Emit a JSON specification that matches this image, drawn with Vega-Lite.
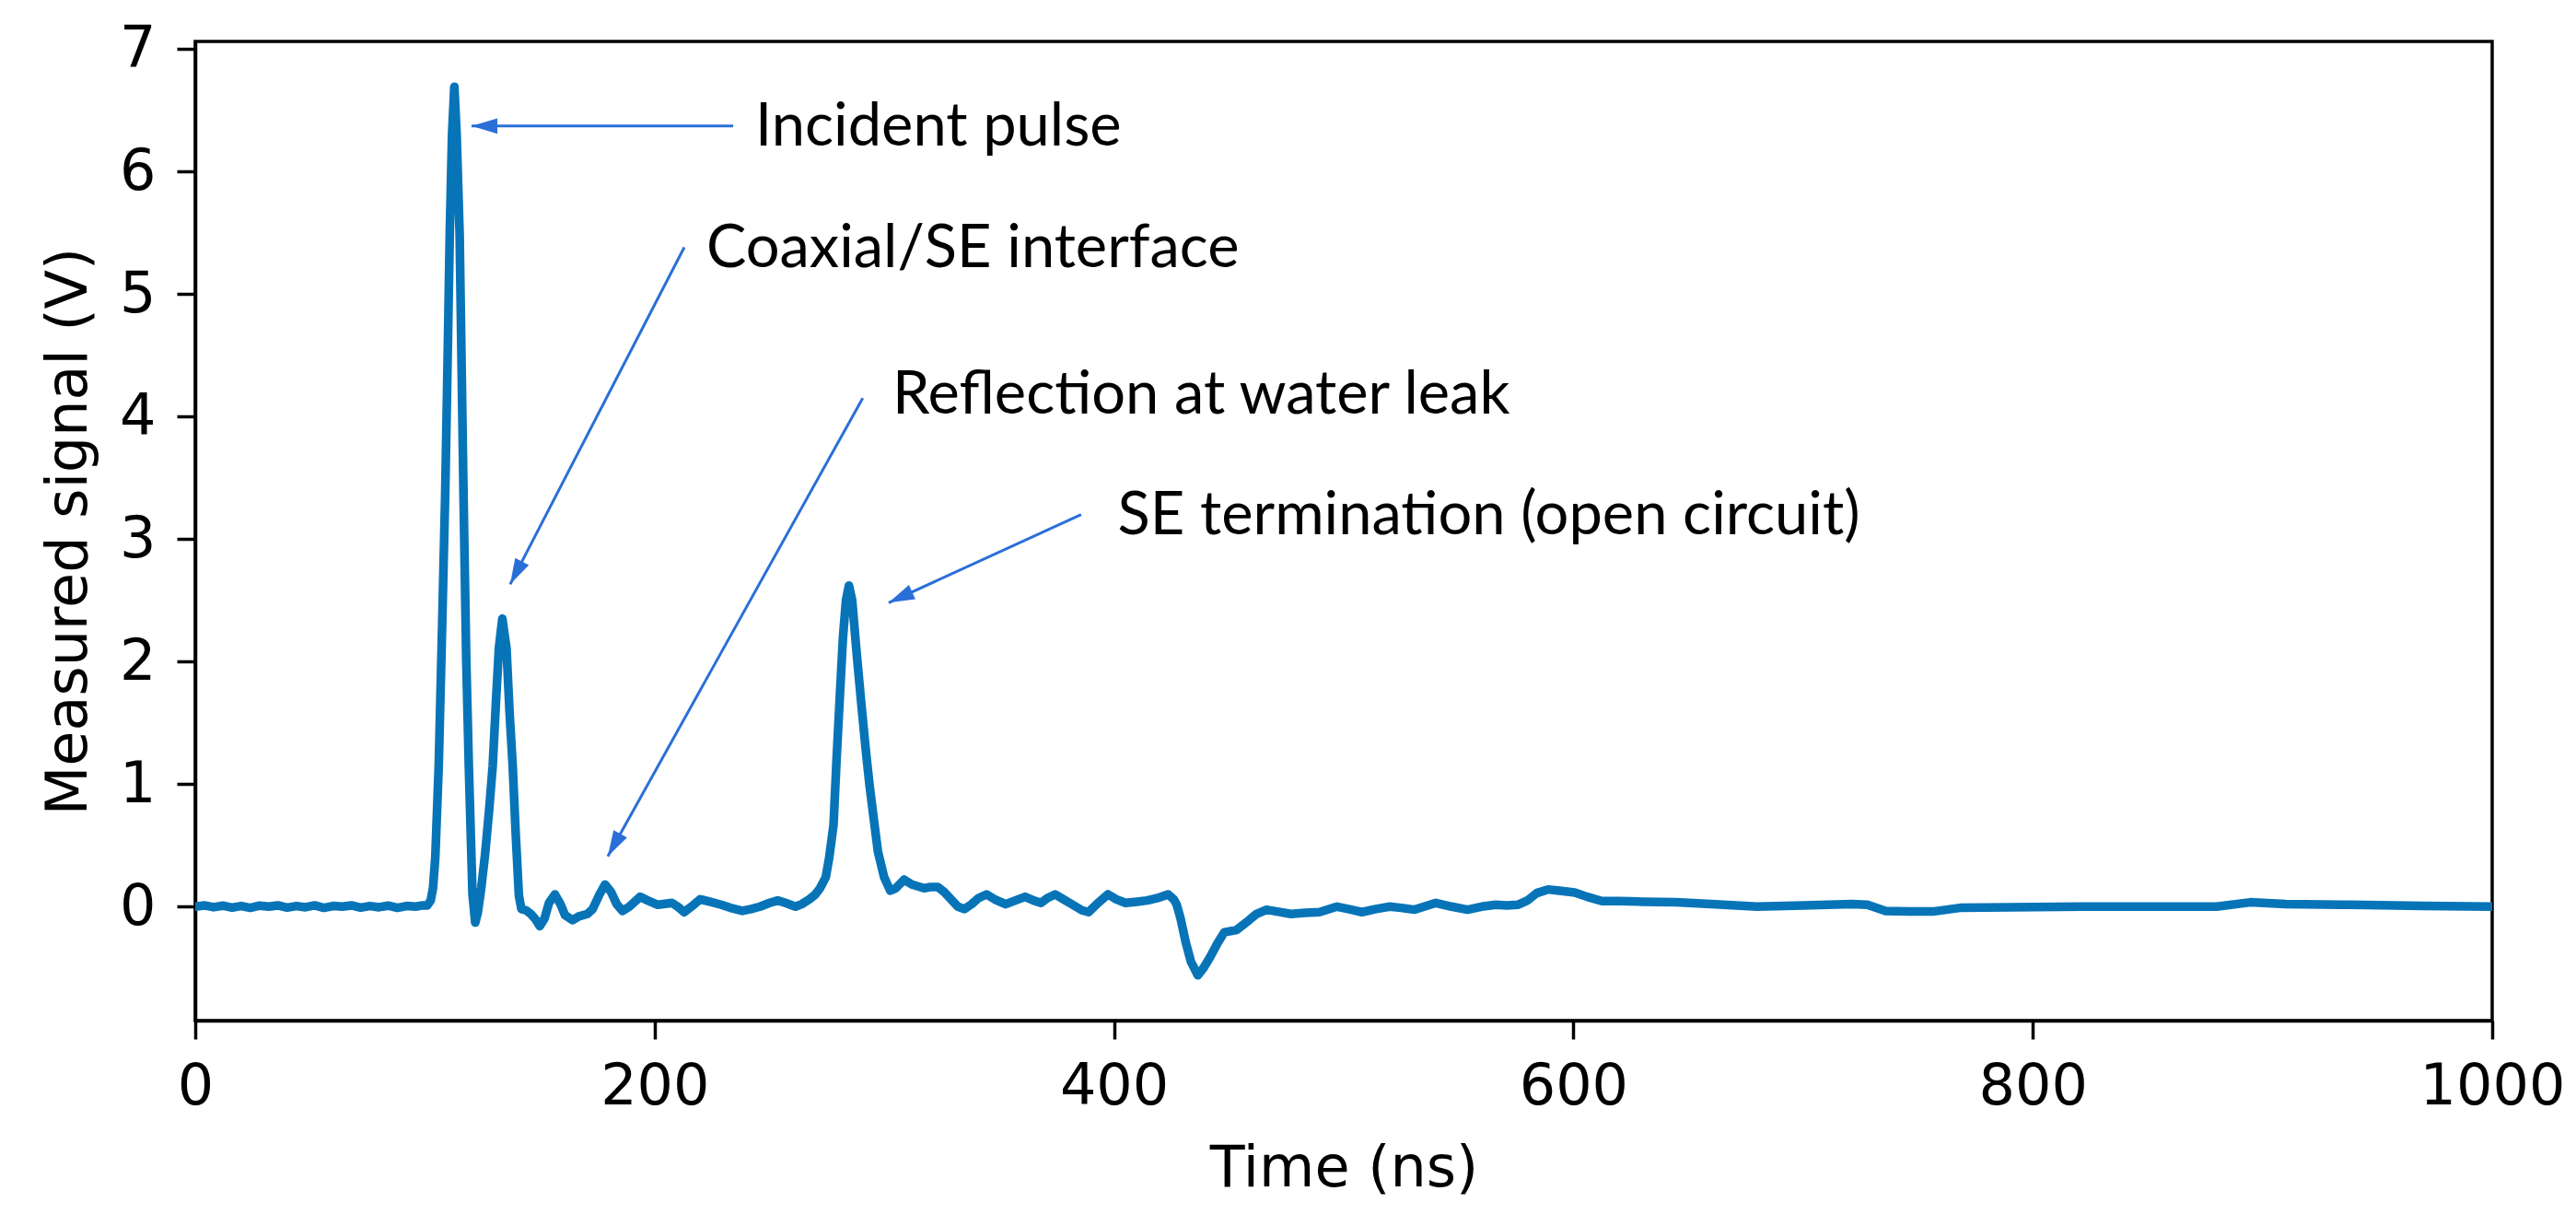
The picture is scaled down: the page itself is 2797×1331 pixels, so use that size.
{
  "$schema": "https://vega.github.io/schema/vega-lite/v6.json",
  "width": 2494,
  "height": 1063,
  "autosize": {"type": "none"},
  "padding": {"left": 212, "top": 45, "right": 91, "bottom": 223},
  "background": "white",
  "config": {
    "view": {"stroke": "black", "strokeWidth": 3.5},
    "axis": {
      "grid": false,
      "domainColor": "black",
      "domainWidth": 3.5,
      "tickColor": "black",
      "tickWidth": 3.5,
      "tickSize": 20,
      "labelFont": "DejaVu Sans",
      "labelFontSize": 62,
      "labelColor": "black",
      "titleFont": "DejaVu Sans",
      "titleFontSize": 62,
      "titleFontWeight": "normal",
      "titleColor": "black"
    }
  },
  "datasets": {
    "signal": [
      {"t": 0, "v": 0.0}, {"t": 4, "v": 0.01}, {"t": 8, "v": -0.005}, {"t": 12, "v": 0.008},
      {"t": 16, "v": -0.008}, {"t": 20, "v": 0.005}, {"t": 24, "v": -0.01}, {"t": 28, "v": 0.008},
      {"t": 32, "v": 0.0}, {"t": 36, "v": 0.01}, {"t": 40, "v": -0.008}, {"t": 44, "v": 0.005},
      {"t": 48, "v": -0.005}, {"t": 52, "v": 0.01}, {"t": 56, "v": -0.01}, {"t": 60, "v": 0.005},
      {"t": 64, "v": 0.0}, {"t": 68, "v": 0.01}, {"t": 72, "v": -0.008}, {"t": 76, "v": 0.005},
      {"t": 80, "v": -0.005}, {"t": 84, "v": 0.008}, {"t": 88, "v": -0.01}, {"t": 92, "v": 0.005},
      {"t": 96, "v": 0.0}, {"t": 99, "v": 0.01}, {"t": 101, "v": 0.01}, {"t": 102.5, "v": 0.05},
      {"t": 103.5, "v": 0.15}, {"t": 104.5, "v": 0.4}, {"t": 106, "v": 1.15}, {"t": 107.5, "v": 2.3},
      {"t": 108.8, "v": 3.35}, {"t": 110, "v": 4.6}, {"t": 110.8, "v": 5.49}, {"t": 111.8, "v": 6.3},
      {"t": 112.8, "v": 6.69}, {"t": 113.8, "v": 6.3}, {"t": 115.1, "v": 5.49}, {"t": 116.8, "v": 3.35},
      {"t": 118, "v": 2.0}, {"t": 119.1, "v": 1.15}, {"t": 120.7, "v": 0.1}, {"t": 121.9, "v": -0.13},
      {"t": 123, "v": -0.05}, {"t": 124.5, "v": 0.15}, {"t": 126.2, "v": 0.43}, {"t": 128, "v": 0.8},
      {"t": 129.5, "v": 1.15}, {"t": 131, "v": 1.7}, {"t": 132.2, "v": 2.11}, {"t": 133.7, "v": 2.35},
      {"t": 135.5, "v": 2.11}, {"t": 136.8, "v": 1.6}, {"t": 138.2, "v": 1.15}, {"t": 139.5, "v": 0.6},
      {"t": 140.9, "v": 0.09}, {"t": 142, "v": -0.02}, {"t": 144, "v": -0.03}, {"t": 146.1, "v": -0.06},
      {"t": 148, "v": -0.1}, {"t": 150, "v": -0.16}, {"t": 152, "v": -0.1}, {"t": 154, "v": 0.03},
      {"t": 156.6, "v": 0.1}, {"t": 159, "v": 0.02}, {"t": 161, "v": -0.07}, {"t": 164.3, "v": -0.11},
      {"t": 167, "v": -0.08}, {"t": 170.7, "v": -0.06}, {"t": 173, "v": -0.02}, {"t": 176, "v": 0.1},
      {"t": 178.4, "v": 0.18}, {"t": 181, "v": 0.12}, {"t": 183.5, "v": 0.02}, {"t": 186, "v": -0.035},
      {"t": 189, "v": 0.0}, {"t": 193.7, "v": 0.08}, {"t": 197, "v": 0.05}, {"t": 201.4, "v": 0.015},
      {"t": 207.5, "v": 0.03}, {"t": 210, "v": 0.0}, {"t": 212.9, "v": -0.045}, {"t": 216, "v": 0.0},
      {"t": 219.8, "v": 0.06}, {"t": 224, "v": 0.04}, {"t": 229, "v": 0.015}, {"t": 233, "v": -0.01},
      {"t": 238.2, "v": -0.035}, {"t": 242, "v": -0.02}, {"t": 245.9, "v": 0.0}, {"t": 250, "v": 0.03},
      {"t": 253.6, "v": 0.05}, {"t": 257, "v": 0.03}, {"t": 261.3, "v": 0.0}, {"t": 264, "v": 0.02},
      {"t": 267.4, "v": 0.06}, {"t": 270, "v": 0.1}, {"t": 272, "v": 0.15}, {"t": 274.5, "v": 0.24},
      {"t": 276, "v": 0.4}, {"t": 277.9, "v": 0.67}, {"t": 279.2, "v": 1.2}, {"t": 280.5, "v": 1.67},
      {"t": 282, "v": 2.2}, {"t": 283.3, "v": 2.5}, {"t": 284.6, "v": 2.62}, {"t": 286, "v": 2.5},
      {"t": 287.8, "v": 2.1}, {"t": 289.9, "v": 1.67}, {"t": 291.8, "v": 1.3}, {"t": 293.5, "v": 1.0},
      {"t": 295.5, "v": 0.7}, {"t": 297.2, "v": 0.45}, {"t": 299.9, "v": 0.24}, {"t": 302.6, "v": 0.13},
      {"t": 305, "v": 0.15}, {"t": 308.6, "v": 0.22}, {"t": 312, "v": 0.18}, {"t": 317.3, "v": 0.15},
      {"t": 320, "v": 0.16}, {"t": 323.3, "v": 0.16}, {"t": 326, "v": 0.12}, {"t": 329, "v": 0.06},
      {"t": 332, "v": 0.0}, {"t": 334.8, "v": -0.02}, {"t": 338, "v": 0.02}, {"t": 341, "v": 0.07},
      {"t": 344.5, "v": 0.1}, {"t": 348, "v": 0.06}, {"t": 352.8, "v": 0.02}, {"t": 357, "v": 0.05},
      {"t": 361.3, "v": 0.08}, {"t": 365, "v": 0.05}, {"t": 368.2, "v": 0.03}, {"t": 371, "v": 0.07},
      {"t": 374.4, "v": 0.1}, {"t": 378, "v": 0.06}, {"t": 382, "v": 0.015}, {"t": 386, "v": -0.03},
      {"t": 388.9, "v": -0.045}, {"t": 393, "v": 0.03}, {"t": 397.4, "v": 0.1}, {"t": 401, "v": 0.06},
      {"t": 405, "v": 0.03}, {"t": 410, "v": 0.04}, {"t": 414.3, "v": 0.05}, {"t": 419, "v": 0.07},
      {"t": 423.5, "v": 0.1}, {"t": 426, "v": 0.06}, {"t": 427.3, "v": 0.015}, {"t": 429, "v": -0.1},
      {"t": 431.2, "v": -0.29}, {"t": 433.5, "v": -0.45}, {"t": 436.5, "v": -0.56}, {"t": 439, "v": -0.5},
      {"t": 441.9, "v": -0.41}, {"t": 445, "v": -0.3}, {"t": 448, "v": -0.21}, {"t": 453.4, "v": -0.19},
      {"t": 458.8, "v": -0.11}, {"t": 462, "v": -0.06}, {"t": 466.4, "v": -0.025}, {"t": 471, "v": -0.04},
      {"t": 477.1, "v": -0.06}, {"t": 483, "v": -0.05}, {"t": 489.4, "v": -0.045}, {"t": 497.1, "v": 0.0},
      {"t": 502, "v": -0.02}, {"t": 507.9, "v": -0.045}, {"t": 514, "v": -0.02}, {"t": 520.1, "v": 0.0},
      {"t": 525, "v": -0.01}, {"t": 530.9, "v": -0.025}, {"t": 535, "v": 0.0}, {"t": 540.1, "v": 0.03},
      {"t": 547, "v": 0.0}, {"t": 553.9, "v": -0.025}, {"t": 560, "v": 0.0}, {"t": 566.2, "v": 0.015},
      {"t": 571, "v": 0.01}, {"t": 575.7, "v": 0.015}, {"t": 580, "v": 0.05}, {"t": 584, "v": 0.11},
      {"t": 588.9, "v": 0.14}, {"t": 594, "v": 0.13}, {"t": 600.6, "v": 0.115}, {"t": 606, "v": 0.08},
      {"t": 612.4, "v": 0.045}, {"t": 620, "v": 0.045}, {"t": 630, "v": 0.04}, {"t": 644.7, "v": 0.035},
      {"t": 660, "v": 0.02}, {"t": 680, "v": 0.0}, {"t": 700, "v": 0.01}, {"t": 721.2, "v": 0.02},
      {"t": 728, "v": 0.015}, {"t": 735.9, "v": -0.035}, {"t": 746, "v": -0.04}, {"t": 756.5, "v": -0.04},
      {"t": 768.2, "v": -0.01}, {"t": 790, "v": -0.005}, {"t": 821.2, "v": 0.0}, {"t": 850, "v": 0.0},
      {"t": 880, "v": 0.0}, {"t": 894.7, "v": 0.035}, {"t": 910, "v": 0.02}, {"t": 938.8, "v": 0.015},
      {"t": 970, "v": 0.005}, {"t": 1000, "v": 0.0}
    ],
    "notes": [
      {"label": "Incident pulse", "t": 120.3, "v": 6.37, "t0": 234.2, "v0": 6.37, "tx": 243.8, "ty": 6.36},
      {"label": "Coaxial/SE interface", "t": 137.1, "v": 2.63, "t0": 212.9, "v0": 5.38, "tx": 222.5, "ty": 5.37},
      {"label": "Reflection at water leak", "t": 179.6, "v": 0.41, "t0": 290.6, "v0": 4.15, "tx": 303.5, "ty": 4.17},
      {"label": "SE termination (open circuit)", "t": 301.9, "v": 2.48, "t0": 385.7, "v0": 3.2, "tx": 401.6, "ty": 3.19}
    ]
  },
  "encoding": {
    "x": {
      "type": "quantitative",
      "scale": {"domain": [0, 1000], "nice": false, "zero": false},
      "axis": {"values": [0, 200, 400, 600, 800, 1000], "format": "d", "labelFlush": false, "labelPadding": 21, "titlePadding": 28}
    },
    "y": {
      "type": "quantitative",
      "scale": {"domain": [-0.93, 7.06], "nice": false, "zero": false},
      "axis": {"values": [0, 1, 2, 3, 4, 5, 6, 7], "format": "d", "labelPadding": 23, "titlePadding": 23}
    }
  },
  "layer": [
    {
      "data": {"name": "signal"},
      "mark": {"type": "line", "color": "#0874b8", "strokeWidth": 9.5, "strokeJoin": "round", "strokeCap": "round", "clip": true},
      "encoding": {
        "x": {"field": "t", "type": "quantitative", "title": "Time (ns)"},
        "y": {"field": "v", "type": "quantitative", "title": "Measured signal (V)"}
      }
    },
    {
      "data": {"name": "notes"},
      "mark": {"type": "rule", "color": "#2a6fd8", "strokeWidth": 3},
      "encoding": {
        "x": {"field": "t0", "type": "quantitative"},
        "y": {"field": "v0", "type": "quantitative"},
        "x2": {"field": "t"},
        "y2": {"field": "v"}
      }
    },
    {
      "data": {"name": "notes"},
      "transform": [{"filter": "datum.label === 'Incident pulse'"}],
      "mark": {"type": "point", "shape": "M0,0L0.6,2L-0.6,2Z", "size": 784, "angle": 270, "filled": true, "color": "#2a6fd8", "opacity": 1},
      "encoding": {"x": {"field": "t", "type": "quantitative"}, "y": {"field": "v", "type": "quantitative"}}
    },
    {
      "data": {"name": "notes"},
      "transform": [{"filter": "datum.label === 'Coaxial/SE interface'"}],
      "mark": {"type": "point", "shape": "M0,0L0.6,2L-0.6,2Z", "size": 784, "angle": 207.4, "filled": true, "color": "#2a6fd8", "opacity": 1},
      "encoding": {"x": {"field": "t", "type": "quantitative"}, "y": {"field": "v", "type": "quantitative"}}
    },
    {
      "data": {"name": "notes"},
      "transform": [{"filter": "datum.label === 'Reflection at water leak'"}],
      "mark": {"type": "point", "shape": "M0,0L0.6,2L-0.6,2Z", "size": 784, "angle": 209.1, "filled": true, "color": "#2a6fd8", "opacity": 1},
      "encoding": {"x": {"field": "t", "type": "quantitative"}, "y": {"field": "v", "type": "quantitative"}}
    },
    {
      "data": {"name": "notes"},
      "transform": [{"filter": "datum.label === 'SE termination (open circuit)'"}],
      "mark": {"type": "point", "shape": "M0,0L0.6,2L-0.6,2Z", "size": 784, "angle": 245.6, "filled": true, "color": "#2a6fd8", "opacity": 1},
      "encoding": {"x": {"field": "t", "type": "quantitative"}, "y": {"field": "v", "type": "quantitative"}}
    },
    {
      "data": {"name": "notes"},
      "mark": {"type": "text", "align": "left", "baseline": "middle", "font": "Lato", "fontSize": 65, "color": "black"},
      "encoding": {
        "x": {"field": "tx", "type": "quantitative"},
        "y": {"field": "ty", "type": "quantitative"},
        "text": {"field": "label"}
      }
    }
  ]
}
